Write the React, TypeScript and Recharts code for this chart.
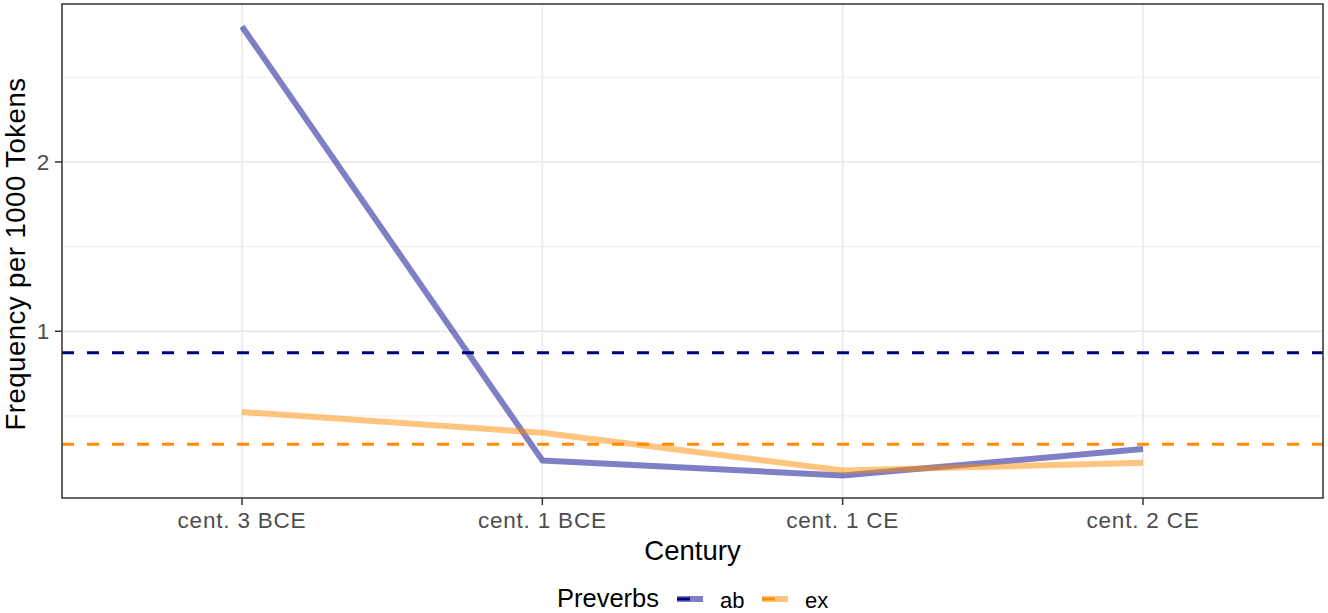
import { LineChart, Line, XAxis, YAxis, CartesianGrid, ReferenceLine } from "recharts"

// values
const centuries = ["cent. 3 BCE", "cent. 1 BCE", "cent. 1 CE", "cent. 2 CE"]
const abFreq = [2.8, 0.237, 0.148, 0.304]
const exFreq = [0.523, 0.4, 0.178, 0.223]
const abMean = 0.873
const exMean = 0.332
const yTicks = [1, 2]
const yMinorTicks = [0.5, 1.5, 2.5]

const data = centuries.map((c, i) => ({ century: c, ab: abFreq[i], ex: exFreq[i] }))

const FONT = "'Liberation Sans', Arial, Helvetica, sans-serif"
const W = 1328
const H = 613
// panel box (matches the chart margins below)
const PL = 62
const PT = 4
const PR = 1323
const PB = 498

const NAVY = "#00008B"
const ORANGE = "#FF8C00"

const tickStyle = { fill: "#4D4D4D", fontSize: 22.5, fontFamily: FONT, letterSpacing: 0.8 }

export default function App() {
  return (
    <div style={{ position: "absolute", left: 0, top: 0, width: W, height: H, background: "#fff", fontFamily: FONT }}>
      <LineChart
        width={W}
        height={H}
        data={data}
        margin={{ top: PT, right: W - PR, left: 0, bottom: 85 }}
      >
        <CartesianGrid horizontal={false} stroke="#EBEBEB" strokeWidth={1.8} />
        {yMinorTicks.map((v) => (
          <ReferenceLine key={"m" + v} y={v} stroke="#EBEBEB" strokeWidth={0.9} />
        ))}
        {yTicks.map((v) => (
          <ReferenceLine key={"g" + v} y={v} stroke="#EBEBEB" strokeWidth={1.8} />
        ))}
        <XAxis
          dataKey="century"
          padding={{ left: 180, right: 180 }}
          height={30}
          axisLine={false}
          tickLine={{ stroke: "#333333", strokeWidth: 1.5 }}
          tickSize={7}
          tickMargin={7}
          tick={tickStyle}
          interval={0}
        />
        <YAxis
          type="number"
          domain={[0.015, 2.933]}
          ticks={yTicks}
          width={PL}
          axisLine={false}
          tickLine={{ stroke: "#333333", strokeWidth: 1.5 }}
          tickSize={7}
          tickMargin={5}
          tick={tickStyle}
          allowDataOverflow
        />
        <Line
          dataKey="ab"
          stroke={NAVY}
          strokeOpacity={0.5}
          strokeWidth={6}
          strokeLinejoin="round"
          strokeLinecap="butt"
          dot={false}
          isAnimationActive={false}
        />
        <Line
          dataKey="ex"
          stroke={ORANGE}
          strokeOpacity={0.5}
          strokeWidth={6}
          strokeLinejoin="round"
          strokeLinecap="butt"
          dot={false}
          isAnimationActive={false}
        />
        <ReferenceLine y={abMean} stroke="#000080" strokeWidth={3} strokeDasharray="12 13" />
        <ReferenceLine y={exMean} stroke={ORANGE} strokeWidth={3} strokeDasharray="12 13" />
      </LineChart>

      <svg
        width={W}
        height={H}
        style={{ position: "absolute", left: 0, top: 0, pointerEvents: "none" }}
        fontFamily={FONT}
      >
        <rect x={PL} y={PT} width={PR - PL} height={PB - PT} fill="none" stroke="#333333" strokeWidth={1.5} />
        <text x={(PL + PR) / 2} y={560} textAnchor="middle" fontSize={27.5} fill="#000">
          Century
        </text>
        <text
          x={0}
          y={0}
          transform={`translate(25, 254) rotate(-90)`}
          textAnchor="middle"
          fontSize={27.5}
          letterSpacing={0.5}
          fill="#000"
        >
          Frequency per 1000 Tokens
        </text>
        {/* legend */}
        <text x={557} y={607} fontSize={25.5} fill="#000">Preverbs</text>
        <line x1={677} x2={703} y1={599} y2={599} stroke={NAVY} strokeOpacity={0.5} strokeWidth={6} />
        <line x1={677} x2={703} y1={599} y2={599} stroke="#000080" strokeWidth={3} strokeDasharray="13 13" />
        <text x={720} y={607.5} fontSize={22} fill="#000">ab</text>
        <line x1={762} x2={788} y1={599} y2={599} stroke={ORANGE} strokeOpacity={0.5} strokeWidth={6} />
        <line x1={762} x2={788} y1={599} y2={599} stroke={ORANGE} strokeWidth={3} strokeDasharray="13 13" />
        <text x={805} y={607.5} fontSize={22} fill="#000">ex</text>
      </svg>
    </div>
  )
}
